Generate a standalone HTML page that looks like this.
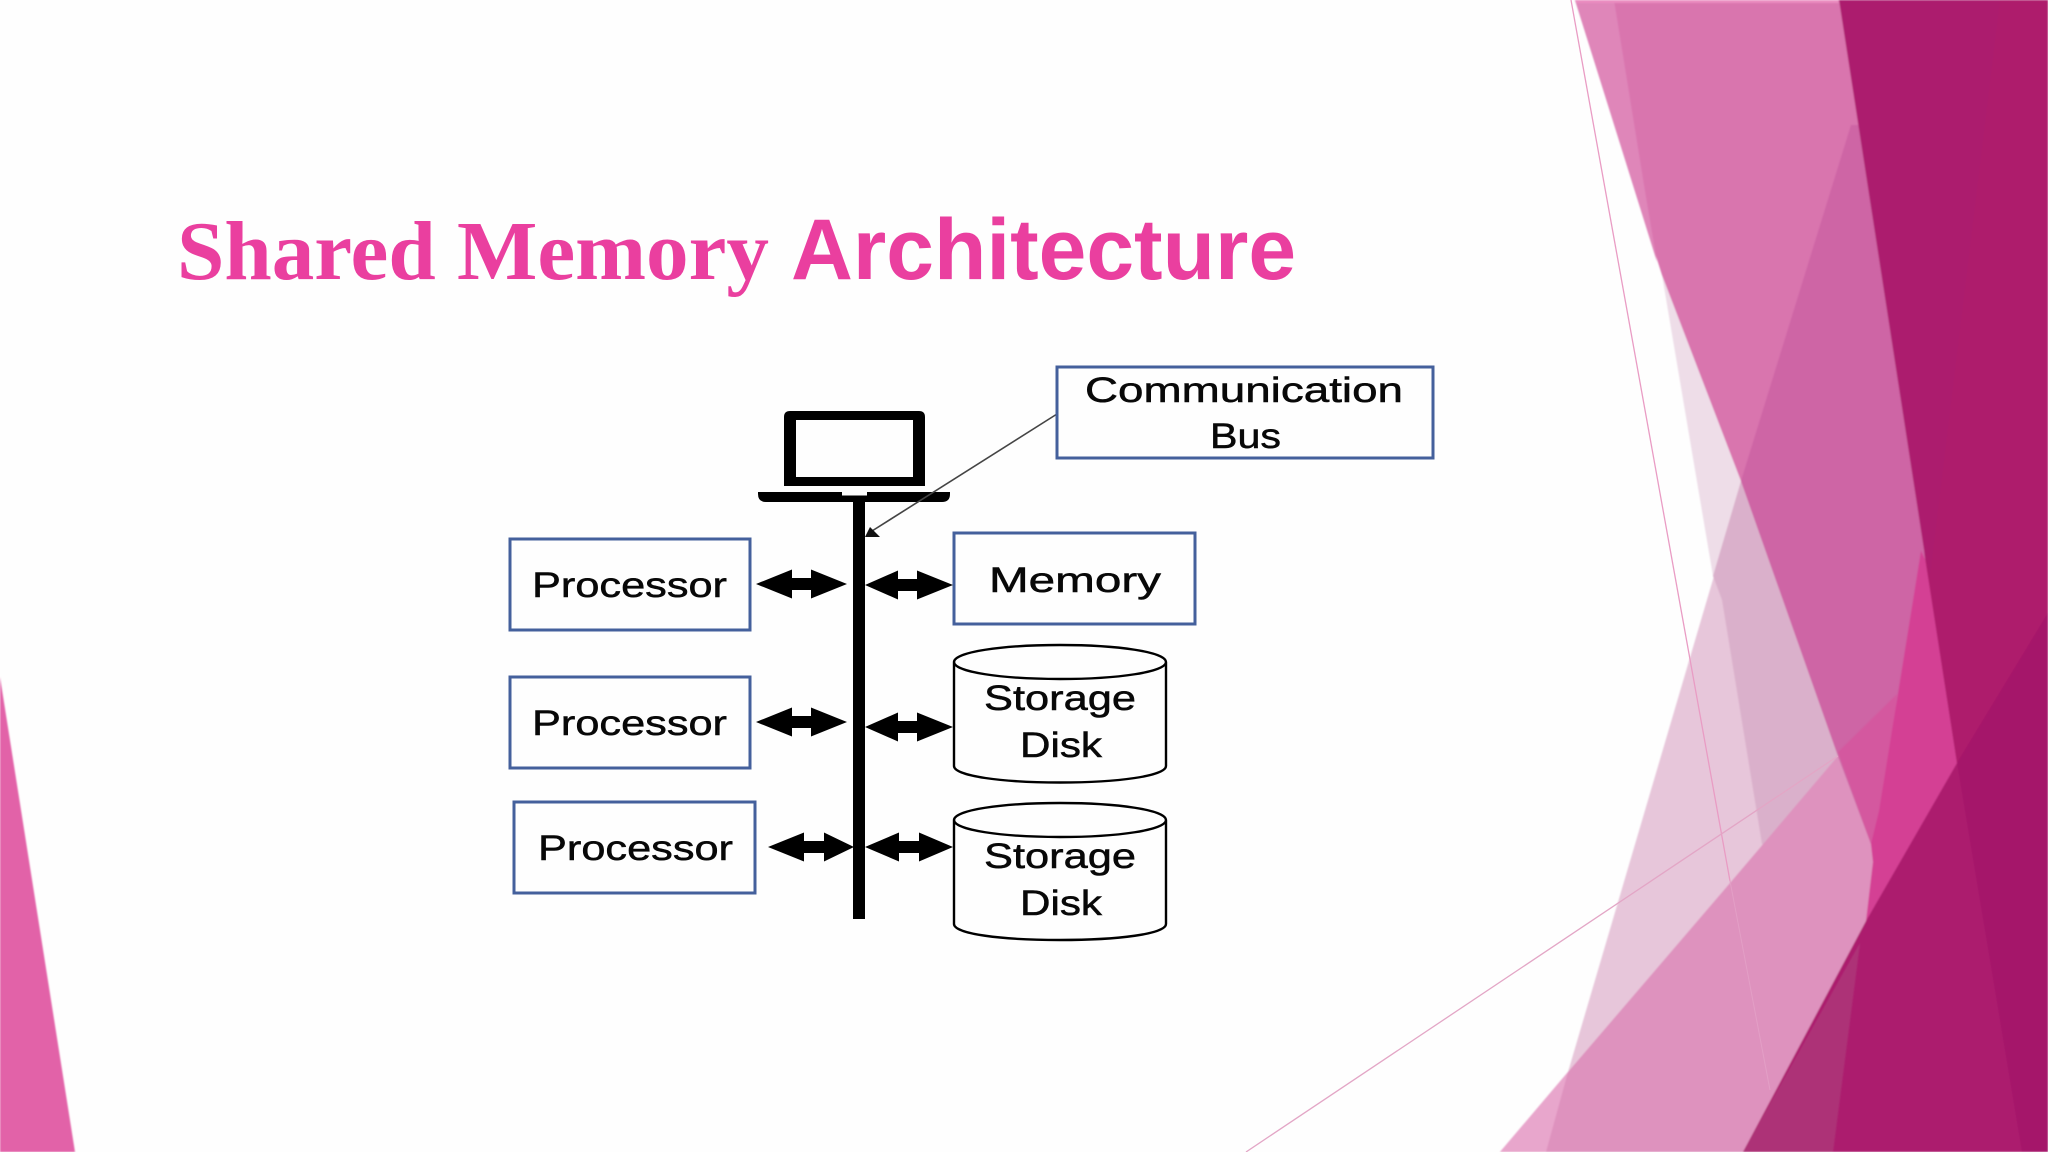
<!DOCTYPE html>
<html lang="en">
<head>
<meta charset="utf-8">
<title>Shared Memory Architecture</title>
<style>
html,body{margin:0;padding:0;background:#fefefe;}
svg{display:block;}
.t{font-family:"Liberation Sans",sans-serif;font-size:35px;fill:#080808;stroke:#080808;stroke-width:0.5;}
.b{fill:#fefefe;stroke:#44609c;stroke-width:3;}
.c{fill:#fefefe;stroke:#000;stroke-width:2.4;}
</style>
</head>
<body>
<svg width="2048" height="1152" viewBox="0 0 2048 1152" xmlns="http://www.w3.org/2000/svg">
<defs><filter id="s" x="-5%" y="-5%" width="110%" height="110%"><feGaussianBlur stdDeviation="0.7"/></filter></defs>
<rect width="2048" height="1152" fill="#fefefe"/>

<g filter="url(#s)">
<polygon points="0,677 75,1152 0,1152" fill="#e262a8"/>

<!-- light translucent shapes -->
<polygon points="1662,275 1750,481 1760,600 1713,576" fill="#eedde8"/>
<polygon points="1714,576 1735,576 1790,844 1760,900 1568,1072" fill="#e7c6da"/>
<polygon points="1741,481 1790,560 1860,760 1790,860 1762,844 1722,600 1713,576" fill="#dab0cb"/>

<!-- lower pink -->
<polygon points="1838,756 1885,844 1885,921 1780,1152 1500,1152 1568,1072 1730,883" fill="#de92be"/>
<polygon points="1500,1152 1546,1152 1568,1072" fill="#e8a6cc"/>

<!-- mid pink -->
<polygon points="1575,0 1860,0 1940,551 1885,811 1871,844 1838,756 1741,481 1662,275" fill="#d974ae"/>
<polygon points="1575,0 1614,0 1645,191 1657,262" fill="#df86b9"/>
<polygon points="1851,125 1870,125 1940,551 1885,811 1871,844 1838,756 1741,481" fill="#ce65a5"/>
<polygon points="1838,752 1897,694 1885,811 1871,844" fill="#d4589f"/>

<!-- hot pink -->
<polygon points="1921,551 1945,600 1975,763 1880,930 1866,921 1873,862 1871,844 1879,811" fill="#d43f94"/>

<!-- dark right -->
<polygon points="1839,0 2048,0 2048,1152 1743,1152 1866,921 1957,763" fill="#ac1f6e"/>
<polygon points="2000,0 2048,0 2048,613 1957,763 1924,551 1930,576" fill="#ae1a6c"/>
<polygon points="1957,763 2048,613 2048,1152 2022,1152" fill="#a5156a"/>
<polygon points="1860,943 1833,1152 1743,1152" fill="#ad3177"/>
<polygon points="1575,0 1838,0 1839,3 1576,3" fill="#ea8cc0"/>
</g>

<!-- thin lines -->
<line x1="1571" y1="0" x2="1730" y2="881" stroke="#e99cc4" stroke-width="1.3"/>
<line x1="1730" y1="881" x2="1770" y2="1090" stroke="#e39fc6" stroke-width="1"/>
<line x1="1838" y1="756" x2="1246" y2="1152" stroke="#e3a6c6" stroke-width="1.3"/>

<!-- title -->
<text x="177" y="279" font-family="'Liberation Serif',serif" font-weight="700" font-size="84" fill="#ea3f9f" textLength="592" lengthAdjust="spacingAndGlyphs">Shared Memory</text>
<text x="791" y="279" font-family="'Liberation Sans',sans-serif" font-weight="700" font-size="86" fill="#ea3f9f" textLength="505" lengthAdjust="spacingAndGlyphs">Architecture</text>

<!-- laptop -->
<path fill-rule="evenodd" d="M790,411H919Q925,411 925,417V486H784V417Q784,411 790,411ZM796,420V477H913V420Z" fill="#000"/>
<path d="M758,492H842V495.500H867V492H950V494Q950,502 942,502H766Q758,502 758,494Z" fill="#000"/>

<!-- bus -->
<rect x="853" y="500" width="12" height="419" fill="#000"/>

<!-- callout -->
<line x1="1057" y1="414" x2="872" y2="531" stroke="#444" stroke-width="1.6"/>
<polygon points="865,537 870,527 880,537" fill="#111"/>

<!-- boxes -->
<rect class="b" x="510" y="539" width="240" height="91"/>
<rect class="b" x="510" y="677" width="240" height="91"/>
<rect class="b" x="514" y="802" width="241" height="91"/>
<rect class="b" x="954" y="533" width="241" height="91"/>
<rect class="b" x="1057" y="367" width="376" height="91"/>

<!-- cylinders -->
<path class="c" d="M954,662V766C954,776 1002,782.500 1060,782.500C1118,782.500 1166,776 1166,766V662C1166,652 1118,645 1060,645C1002,645 954,652 954,662C954,672 1002,679 1060,679C1118,679 1166,672 1166,662"/>
<path class="c" d="M954,820V924C954,934 1002,940 1060,940C1118,940 1166,934 1166,924V820C1166,810 1118,803 1060,803C1002,803 954,810 954,820C954,830 1002,837 1060,837C1118,837 1166,830 1166,820"/>

<!-- arrows -->
<g fill="#000">
<polygon points="756,584 792,569.500 792,578 811,578 811,569.500 847,584 811,598.500 811,590 792,590 792,598.500"/>
<polygon points="865,585 898,570.500 898,579 917,579 917,570.500 953,585 917,599.500 917,591 898,591 898,599.500"/>
<polygon points="756,722 792,707.500 792,716 811,716 811,707.500 847,722 811,736.500 811,728 792,728 792,736.500"/>
<polygon points="865,727 898,712.500 898,721 917,721 917,712.500 953,727 917,741.500 917,733 898,733 898,741.500"/>
<polygon points="768,847 804,832.500 804,841 824,841 824,832.500 854,847 824,861.500 824,853 804,853 804,861.500"/>
<polygon points="865,847 899,832.500 899,841 919,841 919,832.500 953,847 919,861.500 919,853 899,853 899,861.500"/>
</g>

<!-- labels -->
<text class="t" x="532" y="597" textLength="195" lengthAdjust="spacingAndGlyphs">Processor</text>
<text class="t" x="532" y="735" textLength="195" lengthAdjust="spacingAndGlyphs">Processor</text>
<text class="t" x="538" y="860" textLength="195" lengthAdjust="spacingAndGlyphs">Processor</text>
<text class="t" x="989" y="592" textLength="172" lengthAdjust="spacingAndGlyphs">Memory</text>
<text class="t" x="1085" y="402" textLength="318" lengthAdjust="spacingAndGlyphs">Communication</text>
<text class="t" x="1210" y="448" textLength="71" lengthAdjust="spacingAndGlyphs">Bus</text>
<text class="t" x="984" y="710" textLength="152" lengthAdjust="spacingAndGlyphs">Storage</text>
<text class="t" x="1020" y="757" textLength="82" lengthAdjust="spacingAndGlyphs">Disk</text>
<text class="t" x="984" y="868" textLength="152" lengthAdjust="spacingAndGlyphs">Storage</text>
<text class="t" x="1020" y="915" textLength="82" lengthAdjust="spacingAndGlyphs">Disk</text>
</svg>
</body>
</html>
